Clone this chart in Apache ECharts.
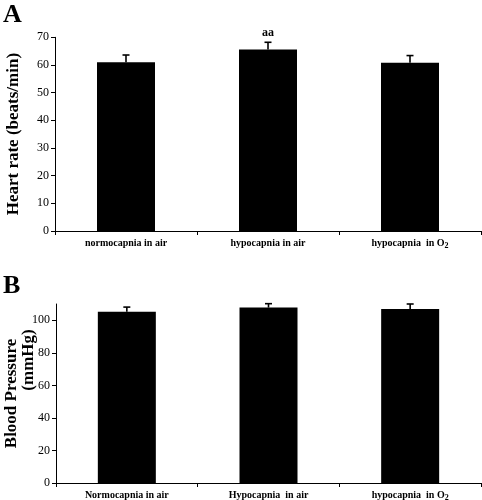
<!DOCTYPE html>
<html>
<head>
<meta charset="utf-8">
<script src="https://cdn.jsdelivr.net/npm/echarts@6/dist/echarts.min.js"></script>
<style>
html,body{margin:0;padding:0;background:#fff;}
#chart{width:482px;height:500px;}
</style>
</head>
<body>
<div id="chart"></div>
<script>
// ---- Data ----
const categoriesA = ['normocapnia in air', 'hypocapnia in air', 'hypocapnia  in O2'];
const heartRate = [61.0, 65.6, 60.8];
const heartRateErr = [2.6, 2.6, 2.6];
const heartRateMarks = ['', 'aa', ''];
const yTicksA = [0, 10, 20, 30, 40, 50, 60, 70];

const categoriesB = ['Normocapnia in air', 'Hypocapnia  in air', 'hypocapnia  in O2'];
const bloodPressure = [105.3, 107.8, 106.9];
const bloodPressureErr = [2.8, 2.4, 3.1];
const bloodPressureMarks = ['', '', ''];
const yTicksB = [0, 20, 40, 60, 80, 100];

// ---- Chart ----
const SERIF = 'Liberation Serif';
const chart = echarts.init(document.getElementById('chart'), null, {renderer: 'canvas'});

function catFormatter(v) {
  const m = v.match(/^(.*)O2$/);
  if (m) return '{m|' + m[1] + 'O}{sub|2}';
  return '{m|' + v + '}';
}

function errorItem(marks) {
  return function (params, api) {
    const x = api.value(0);
    const v = api.value(1);
    const e = api.value(2);
    const base = api.coord([x, v]);
    const top = api.coord([x, v + e]);
    const st = {stroke: '#000', lineWidth: 1.6};
    const children = [
      {type: 'line', shape: {x1: top[0], y1: base[1], x2: top[0], y2: top[1]}, style: st},
      {type: 'line', shape: {x1: top[0] - 3.5, y1: top[1], x2: top[0] + 3.5, y2: top[1]}, style: st}
    ];
    const m = marks[params.dataIndex];
    if (m) {
      children.push({
        type: 'text',
        style: {
          text: m, x: top[0], y: top[1] - 3,
          align: 'center', verticalAlign: 'bottom',
          font: 'bold 12px "' + SERIF + '"', fill: '#000'
        }
      });
    }
    return {type: 'group', children: children};
  };
}

function catAxis(gridIndex, cats) {
  return {
    type: 'category', gridIndex: gridIndex, data: cats,
    axisLine: {lineStyle: {color: '#000', width: 1}},
    axisTick: {show: true, length: 4, lineStyle: {color: '#000'}},
    axisLabel: {
      interval: 0, hideOverlap: false,
      margin: 5, color: '#000', formatter: catFormatter,
      rich: {
        m: {fontFamily: SERIF, fontWeight: 'bold', fontSize: 10, color: '#000', lineHeight: 14, verticalAlign: 'middle'},
        sub: {fontFamily: SERIF, fontWeight: 'bold', fontSize: 8, color: '#000', lineHeight: 14, verticalAlign: 'bottom', padding: [6, 0, 0, 0]}
      }
    }
  };
}

function valAxis(gridIndex, max, interval, ticks, name, nameGap) {
  return {
    type: 'value', gridIndex: gridIndex, min: 0, max: max, interval: interval,
    splitLine: {show: false},
    axisLine: {show: true, lineStyle: {color: '#000', width: 1}},
    axisTick: {show: true, length: 4, inside: false, lineStyle: {color: '#000'}, customValues: ticks},
    axisLabel: {color: '#000', fontFamily: SERIF, fontSize: 12, margin: 6, customValues: ticks},
    name: name, nameLocation: 'middle', nameGap: nameGap,
    nameTextStyle: {color: '#000', fontFamily: SERIF, fontWeight: 'bold', fontSize: 17}
  };
}

const option = {
  backgroundColor: '#fff',
  animation: false,
  title: [
    {text: 'A', left: 3, top: 2, padding: 0, textStyle: {fontFamily: SERIF, fontWeight: 'bold', fontSize: 26, color: '#000'}},
    {text: 'B', left: 3, top: 273, padding: 0, textStyle: {fontFamily: SERIF, fontWeight: 'bold', fontSize: 26, color: '#000'}}
  ],
  graphic: [
    {type: 'text', x: 28.5, y: 360, rotation: Math.PI / 2,
     style: {text: '(mmHg)', align: 'center', verticalAlign: 'middle',
             font: 'bold 17px "' + SERIF + '"', fill: '#000'}}
  ],
  grid: [
    {left: 55, right: 1, top: 37.3, height: 193.7, outerBoundsMode: 'none', containLabel: false},
    {left: 56, right: 1, top: 304, height: 179, outerBoundsMode: 'none', containLabel: false}
  ],
  xAxis: [catAxis(0, categoriesA), catAxis(1, categoriesB)],
  yAxis: [
    valAxis(0, 70, 10, yTicksA, 'Heart rate (beats/min)', 33),
    valAxis(1, 110, 10, yTicksB, 'Blood Pressure', 36)
  ],
  series: [
    {type: 'bar', xAxisIndex: 0, yAxisIndex: 0, data: heartRate, barWidth: 58,
     itemStyle: {color: '#000'}, silent: true},
    {type: 'custom', xAxisIndex: 0, yAxisIndex: 0,
     data: heartRate.map((v, i) => [i, v, heartRateErr[i]]),
     encode: {x: 0, y: 1}, renderItem: errorItem(heartRateMarks), silent: true},
    {type: 'bar', xAxisIndex: 1, yAxisIndex: 1, data: bloodPressure, barWidth: 58,
     itemStyle: {color: '#000'}, silent: true},
    {type: 'custom', xAxisIndex: 1, yAxisIndex: 1,
     data: bloodPressure.map((v, i) => [i, v, bloodPressureErr[i]]),
     encode: {x: 0, y: 1}, renderItem: errorItem(bloodPressureMarks), silent: true}
  ]
};
chart.setOption(option);
</script>
</body>
</html>
